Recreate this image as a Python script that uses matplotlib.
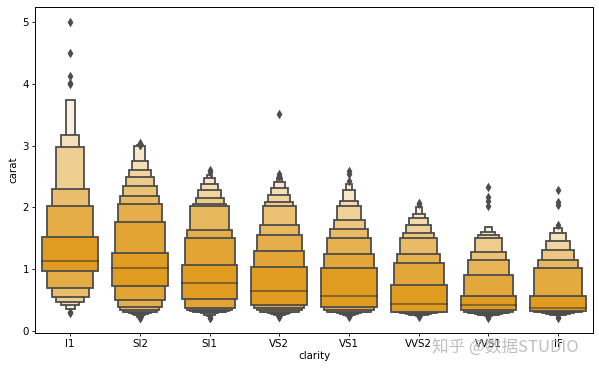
import colorsys
import matplotlib
matplotlib.use('Agg')
import matplotlib.pyplot as plt
import matplotlib.colors as mcolors

clarity = ['I1', 'SI2', 'SI1', 'VS2', 'VS1', 'VVS2', 'VVS1', 'IF']

# letter-value boxes, innermost box first
box_tops = [
    [1.52, 2.03, 2.30, 2.98, 3.18, 3.75],
    [1.26, 1.76, 2.06, 2.19, 2.34, 2.50, 2.60, 2.75, 2.99, 3.01],
    [1.06, 1.50, 1.63, 2.02, 2.05, 2.16, 2.28, 2.38, 2.47, 2.53],
    [1.03, 1.30, 1.55, 1.72, 2.02, 2.09, 2.20, 2.32, 2.41, 2.47],
    [1.02, 1.25, 1.51, 1.65, 1.79, 2.02, 2.11, 2.28, 2.38],
    [0.74, 1.09, 1.24, 1.51, 1.58, 1.71, 1.83, 1.89, 2.01],
    [0.57, 0.91, 1.15, 1.27, 1.51, 1.55, 1.60, 1.69],
    [0.56, 1.02, 1.14, 1.31, 1.46, 1.58, 1.67],
]
box_bottoms = [
    [0.97, 0.70, 0.55, 0.47, 0.41, 0.35],
    [0.73, 0.50, 0.39, 0.34, 0.31, 0.30, 0.29, 0.27, 0.25, 0.23],
    [0.52, 0.37, 0.34, 0.32, 0.31, 0.30, 0.30, 0.29, 0.26, 0.24],
    [0.41, 0.36, 0.33, 0.31, 0.30, 0.30, 0.29, 0.27, 0.25, 0.24],
    [0.39, 0.33, 0.31, 0.30, 0.30, 0.29, 0.27, 0.25, 0.24],
    [0.31, 0.30, 0.30, 0.29, 0.28, 0.27, 0.26, 0.25, 0.24],
    [0.33, 0.30, 0.29, 0.28, 0.27, 0.26, 0.25, 0.24],
    [0.32, 0.31, 0.30, 0.29, 0.27, 0.26, 0.25],
]
medians = [1.13, 1.02, 0.77, 0.64, 0.57, 0.44, 0.41, 0.37]
outliers = [
    [5.01, 4.50, 4.13, 4.01, 4.00, 0.30, 0.29],
    [3.01, 3.02, 3.04, 0.20, 0.21, 0.22],
    [2.57, 2.60, 0.21, 0.21],
    [3.51, 2.54, 2.51, 2.50, 0.23, 0.23],
    [2.59, 2.54, 2.43, 0.23],
    [2.07, 2.05, 0.23],
    [2.33, 2.17, 2.10, 2.02, 0.20, 0.23],
    [2.29, 2.08, 2.04, 1.72, 0.23, 0.21],
]

# seaborn style colours: desaturated orange fading to a pale tint
base = mcolors.to_rgb('orange')
h, l, s = colorsys.rgb_to_hls(*base)
base = colorsys.hls_to_rgb(h, l, s * 0.75)
pale = tuple(c + 0.85 * (1 - c) for c in base)
cmap = mcolors.LinearSegmentedColormap.from_list('lv', [base, pale])
gray = (0.3, 0.3, 0.3)

fig, ax = plt.subplots(figsize=(5.99, 3.71), dpi=100)
fig.subplots_adjust(left=0.059, right=0.990, top=0.981, bottom=0.102)

for i, name in enumerate(clarity):
    k = len(box_tops[i])
    for j in range(k - 1, -1, -1):
        ax.bar(i, box_tops[i][j] - box_bottoms[i][j], bottom=box_bottoms[i][j],
               width=0.8 * (k - j) / k, color=cmap(j / (k - 1)),
               edgecolor=gray, linewidth=1.3, zorder=2)
    ax.plot([i - 0.4, i + 0.4], [medians[i], medians[i]], color='.15',
            alpha=.5, lw=1.3, zorder=3)
    ax.scatter([i] * len(outliers[i]), outliers[i], marker='d', color=gray,
               s=24, linewidths=0, zorder=3)

ax.set_xlim(-0.5, 7.5)
ax.set_ylim(-0.04, 5.25)
ax.set_xticks(range(len(clarity)))
ax.set_xticklabels(clarity)
ax.set_yticks([0, 1, 2, 3, 4, 5])
ax.tick_params(labelsize=7.4, length=2.5, width=0.6, pad=2)
ax.set_xlabel('clarity', fontsize=7.4, labelpad=1.5)
ax.set_ylabel('carat', fontsize=7.4, labelpad=3)
for sp in ax.spines.values():
    sp.set_linewidth(0.7)

# watermark
fig.text(0.843, 0.065, '知乎 @数据STUDIO', family=['Noto Sans CJK SC', 'DejaVu Sans'],
         fontsize=12, color='#b8b8b8', alpha=0.9, ha='center', va='center')

fig.savefig('out.png', dpi=100)
